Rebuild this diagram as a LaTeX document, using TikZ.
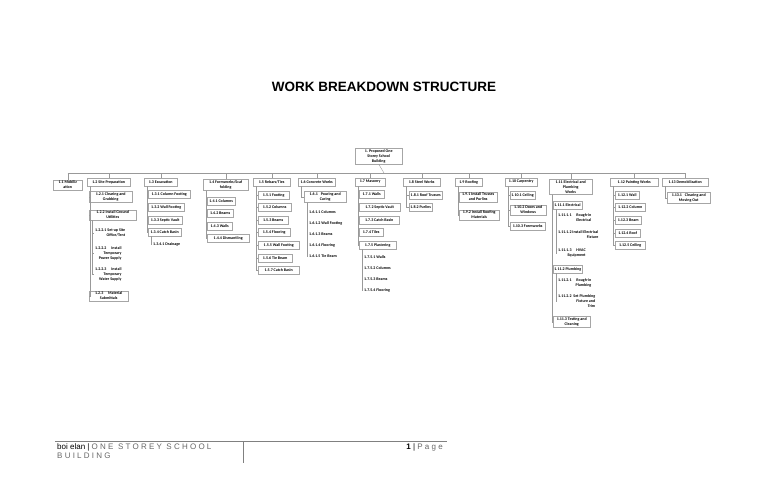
\documentclass[tikz,border=0pt]{standalone}
\usepackage{fontspec}
\setmainfont{Carlito}
\newfontfamily\arialf{Liberation Sans}
\newfontfamily\arialsp[LetterSpace=28]{Liberation Sans}
\tikzset{
 box/.style={draw=black!35,fill=white,font=\bfseries\fontsize{4}{5}\selectfont,inner sep=1.2pt,align=center,anchor=west,minimum height=8pt},
 txt/.style={font=\bfseries\fontsize{4}{5}\selectfont,inner sep=1pt,align=right,anchor=west},
 ln/.style={draw=black!40,line width=0.4pt}
}
\newcommand\wbs[5]{\node[box,minimum width=#4] (#1) at (#2,#3) {#5};}
\newcommand\wtx[4]{\node[txt] (#1) at (#2,#3) {#4};}
\newcommand\cn[2]{\draw[ln] ([xshift=3pt]#1.south west) |- (#2.west);}
\begin{document}
\begin{tikzpicture}[x=1pt,y=-1pt]
\useasboundingbox (0,0) rectangle (768,503);
\node[font=\arialf\bfseries\fontsize{13.5}{15}\selectfont] (title) at (384,87) {WORK BREAKDOWN STRUCTURE};
% root
\wbs{root}{355}{156}{47}{1. Proposed One\\Storey School\\Building}
\coordinate (bus) at (384,173);
% level 1
\wbs{a}{53}{185}{29}{1.1 Mobiliz\\ation}
\wbs{b}{87}{182}{43}{1.2 Site Preparation}
\wbs{c}{144}{182}{33}{1.3 Excavation}
\wbs{d}{203}{185}{45}{1.4 Formworks/Scaf\\folding}
\wbs{e}{253}{182}{37}{1.5 Rebars/Ties}
\wbs{f}{298}{182}{37}{1.6 Concrete Works}
\wbs{g}{355}{182}{30}{1.7 Masonry}
\wbs{h}{403}{182}{37}{1.8 Steel Works}
\wbs{i}{455}{182}{27}{1.9 Roofing}
\wbs{j}{505}{182}{32}{1.10 Carpentry}
\wbs{k}{549}{187}{43}{1.11 Electrical and\\Plumbing\\Works}
\wbs{l}{610}{182}{48}{1.12 Painting Works}
\wbs{m}{662}{182}{46}{1.13 Demobilization}
\draw[ln] (root.south) -- (bus);
\draw[ln] (a.north |- bus) -- (m.north |- bus);
\foreach \n in {a,b,c,d,e,f,g,h,i,j,k,l,m}{\draw[ln] (\n.north) -- (\n.north |- bus);}
% 1.2
\wbs{b1}{89}{197}{43}{1.2.1 Clearing and\\Grubbing}
\wbs{b2}{89}{215}{47}{1.2.2 Install Ground\\Utilities}
\wtx{b21}{94}{233}{1.2.2.1 Set-up Site\\Office/Tent}
\wtx{b22}{94}{253}{1.2.2.2 \quad Install\\Temporary\\Power Supply}
\wtx{b23}{94}{274}{1.2.2.3 \quad Install\\Temporary\\Water Supply}
\wbs{b3}{89}{296}{39}{1.2.3 \quad Material\\Submittals}
\foreach \n in {b1,b2,b3}{\cn{b}{\n}}
\foreach \n in {b21,b22,b23}{\cn{b2}{\n}}
% 1.3
\wbs{c1}{148}{194}{42}{1.3.1 Column Footing}
\wbs{c2}{148}{207}{36}{1.3.2 Wall Footing}
\wbs{c3}{148}{220}{34}{1.3.3 Septic Vault}
\wbs{c4}{148}{232}{33}{1.3.4 Catch Basin}
\wtx{c41}{152}{244}{1.3.4.1 Drainage}
\foreach \n in {c1,c2,c3,c4}{\cn{c}{\n}}
\cn{c4}{c41}
% 1.4
\wbs{d1}{207}{201}{28}{1.4.1 Columns}
\wbs{d2}{207}{213}{26}{1.4.2 Beams}
\wbs{d3}{207}{226}{25}{1.4.3 Walls}
\wbs{d4}{207}{238}{42}{1.4.4 Dismantling}
\foreach \n in {d1,d2,d3,d4}{\cn{d}{\n}}
% 1.5
\wbs{e1}{258}{195}{31}{1.5.1 Footing}
\wbs{e2}{258}{207}{33}{1.5.2 Columns}
\wbs{e3}{258}{220}{30}{1.5.3 Beams}
\wbs{e4}{258}{232}{32}{1.5.4 Flooring}
\wbs{e5}{258}{245}{41}{1.5.5 Wall Footing}
\wbs{e6}{258}{258}{34}{1.5.6 Tie Beam}
\wbs{e7}{258}{270}{41}{1.5.7 Catch Basin}
\foreach \n in {e1,e2,e3,e4,e5,e6,e7}{\cn{e}{\n}}
% 1.6
\wbs{f1}{304}{197}{42}{1.6.1 \; Pouring and\\Curing}
\wtx{f11}{308}{212}{1.6.1.1 Columns}
\wtx{f12}{308}{223}{1.6.1.2 Wall Footing}
\wtx{f13}{308}{234}{1.6.1.3 Beams}
\wtx{f14}{308}{245}{1.6.1.4 Flooring}
\wtx{f15}{308}{256}{1.6.1.5 Tie Beam}
\cn{f}{f1}
\foreach \n in {f11,f12,f13,f14,f15}{\cn{f1}{\n}}
% 1.7
\wbs{g1}{359}{194}{25}{1.7.1 Walls}
\wbs{g2}{359}{207}{41}{1.7.2 Septic Vault}
\wbs{g3}{359}{220}{40}{1.7.3 Catch Basin}
\wbs{g4}{359}{232}{24}{1.7.4 Tiles}
\wbs{g5}{359}{245}{37}{1.7.5 Plastering}
\wtx{g51}{363}{257}{1.7.5.1 Walls}
\wtx{g52}{363}{268}{1.7.5.2 Columns}
\wtx{g53}{363}{279}{1.7.5.3 Beams}
\wtx{g54}{363}{290}{1.7.5.4 Flooring}
\foreach \n in {g1,g2,g3,g4,g5}{\cn{g}{\n}}
\foreach \n in {g51,g52,g53,g54}{\cn{g5}{\n}}
% 1.8
\wbs{h1}{409}{195}{33}{1.8.1 Roof Trusses}
\wbs{h2}{409}{207}{21}{1.8.2 Purlins}
\foreach \n in {h1,h2}{\cn{h}{\n}}
% 1.9
\wbs{i1}{459}{197}{38}{1.9.1 Install Trusses\\and Purlins}
\wbs{i2}{459}{215}{40}{1.9.2 Install Roofing\\Materials}
\foreach \n in {i1,i2}{\cn{i}{\n}}
% 1.10
\wbs{j1}{510}{195}{23}{1.10.1 Ceiling}
\wbs{j2}{510}{210}{36}{1.10.2 Doors and\\Windows}
\wbs{j3}{510}{226}{35}{1.10.3 Formworks}
\foreach \n in {j1,j2,j3}{\cn{j}{\n}}
% 1.11
\wbs{k1}{553}{205}{23}{1.11.1 Electrical}
\wtx{k11}{557}{218}{1.11.1.1 \quad Rough-in\\Electrical}
\wtx{k12}{557}{235}{1.11.1.2 Install Electrical\\Fixture}
\wtx{k13}{557}{253}{1.11.1.3 \quad HVAC\\Equipment}
\wbs{k2}{553}{269}{26}{1.11.2 Plumbing}
\wtx{k21}{557}{283}{1.11.2.1 \quad Rough-in\\Plumbing}
\wtx{k22}{557}{301}{1.11.2.2 \ Set Plumbing\\Fixture and\\Trim}
\wbs{k3}{553}{322}{37}{1.11.3 Testing and\\Cleaning}
\foreach \n in {k1,k2,k3}{\cn{k}{\n}}
\foreach \n in {k11,k12,k13}{\cn{k1}{\n}}
\foreach \n in {k21,k22}{\cn{k2}{\n}}
% 1.12
\wbs{l1}{615}{195}{24}{1.12.1 Wall}
\wbs{l2}{615}{207}{30}{1.12.2 Column}
\wbs{l3}{615}{220}{26}{1.12.3 Beam}
\wbs{l4}{615}{233}{25}{1.12.4 Roof}
\wbs{l5}{615}{245}{30}{1.12.5 Ceiling}
\foreach \n in {l1,l2,l3,l4,l5}{\cn{l}{\n}}
% 1.13
\wbs{m1}{667}{198}{43}{1.13.1 \; Clearing and\\Moving Out}
\cn{m}{m1}
% footer
\coordinate (fl) at (55,441);
\coordinate (fr) at (447,441);
\coordinate (fd) at (243,441);
\coordinate (fdb) at (243,463);
\draw[black!50,line width=0.5pt] (fl) -- (fr);
\draw[black!50,line width=0.5pt] (fd) -- (fdb);
\node[anchor=north west,inner sep=0pt,align=left,font=\arialf\fontsize{8}{9.5}\selectfont] (ft) at (57,443) {boi elan | {\arialsp\color{black!60}ONE  STOREY  SCHOOL}\\{\arialsp\color{black!60}BUILDING}};
\node[anchor=north east,inner sep=0pt,font=\arialf\fontsize{8}{9.5}\selectfont] (pg) at (443,443) {\textbf{1} | {\arialsp\color{black!60}Page}};
\end{tikzpicture}
\end{document}
